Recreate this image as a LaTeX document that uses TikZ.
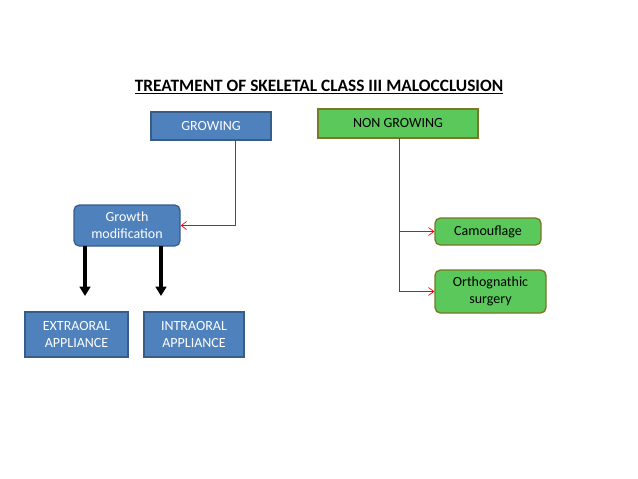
\documentclass[tikz,border=0pt]{standalone}
\usepackage{fontspec}
\setmainfont{Carlito}
\usetikzlibrary{arrows.meta}
\definecolor{bfill}{RGB}{79,129,189}
\definecolor{bdraw}{RGB}{56,93,138}
\definecolor{gfill}{RGB}{90,200,90}
\definecolor{gdraw}{RGB}{120,120,40}
\tikzset{
 bbox/.style={draw=bdraw,fill=bfill,text=white,line width=1pt,align=center,inner sep=0pt,font=\fontsize{10.5}{13}\selectfont},
 gbox/.style={draw=gdraw,fill=gfill,text=black,line width=1pt,align=center,inner sep=0pt,font=\fontsize{10.5}{13}\selectfont},
 rl/.style={draw=red,line width=0.5pt,-{Straight Barb[length=4pt,width=6pt]}},
 kl/.style={draw=black,line width=2.5pt,-{Triangle[length=7pt,width=8pt]}}
}
\begin{document}
\begin{tikzpicture}[x=0.75pt,y=-0.75pt]
\useasboundingbox (0,0) rectangle (638,478);
\node[font=\bfseries\fontsize{13}{15}\selectfont] (title) at (319,87) {\underline{TREATMENT OF SKELETAL CLASS III MALOCCLUSION}};
\node[bbox,minimum width=120*0.75pt,minimum height=28*0.75pt] (gr) at (211,126) {GROWING};
\node[gbox,minimum width=160*0.75pt,minimum height=29*0.75pt] (ng) at (398,123.5) {NON GROWING};
\node[bbox,rounded corners=4pt,minimum width=106*0.75pt,minimum height=41*0.75pt] (gm) at (127,225.5) {Growth\\modification};
\node[gbox,rounded corners=4pt,minimum width=106*0.75pt,minimum height=27*0.75pt] (cam) at (488,231.5) {Camouflage};
\node[gbox,rounded corners=4pt,minimum width=111*0.75pt,minimum height=43*0.75pt] (ort) at (490.5,291.5) {Orthognathic\\surgery};
\node[bbox,minimum width=103*0.75pt,minimum height=45*0.75pt] (ex) at (76.5,334.5) {EXTRAORAL\\APPLIANCE};
\node[bbox,minimum width=100*0.75pt,minimum height=45*0.75pt] (in) at (194,334.5) {INTRAORAL\\APPLIANCE};
\coordinate (g1) at (235,140);
\coordinate (n1) at (399,138);
\draw[rl] (g1) |- (gm.east);
\draw[rl] (n1) |- (cam.west);
\draw[rl] (n1) |- (ort.west);
\coordinate (k1) at (85,246);
\coordinate (k2) at (161,246);
\coordinate (k1e) at (85,296);
\coordinate (k2e) at (161,296);
\draw[kl] (k1) -- (k1e);
\draw[kl] (k2) -- (k2e);
\end{tikzpicture}
\end{document}
